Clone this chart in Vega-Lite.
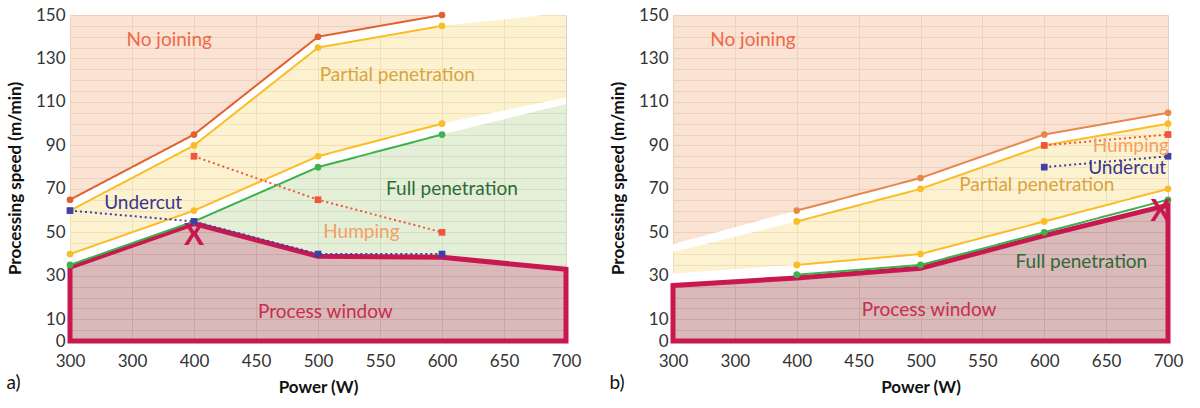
{
  "$schema": "https://vega.github.io/schema/vega-lite/v6.json",
  "background": "white",
  "padding": {"left": 6, "top": 6, "right": 18, "bottom": 4},
  "spacing": 28,
  "resolve": {"scale": {"color": "independent", "x": "independent", "y": "independent"}},
  "config": {
    "font": "Lato",
    "view": {"stroke": null},
    "axis": {
      "labelFont": "Lato", "labelFontSize": 17, "labelColor": "#333333",
      "titleFont": "Lato", "titleFontSize": 17, "titleFontWeight": "bold", "titleColor": "#111111",
      "ticks": false, "domain": false, "gridColor": "#dcd0c9", "gridWidth": 1,
      "labelFlush": false, "labelOverlap": false
    }
  },
  "datasets": {
    "bandsA": [
      {"power": 300, "b1": 65, "b2": 60, "b3": 40, "b4": 35, "pw": 34},
      {"power": 400, "b1": 95, "b2": 90, "b3": 60, "b4": 55, "pw": 54},
      {"power": 500, "b1": 140, "b2": 135, "b3": 85, "b4": 80, "pw": 39},
      {"power": 600, "b1": 150, "b2": 145, "b3": 100, "b4": 95, "pw": 38.5},
      {"power": 700, "b1": 156, "b2": 151, "b3": 112, "b4": 109, "pw": 33}
    ],
    "bandsB": [
      {"power": 300, "b1": 44.5, "b2": 41, "b3": 31, "b4": 25.5, "pw": 25.5},
      {"power": 400, "b1": 60, "b2": 55, "b3": 35, "b4": 29, "pw": 29},
      {"power": 500, "b1": 75, "b2": 70, "b3": 40, "b4": 33.5, "pw": 33.5},
      {"power": 600, "b1": 95, "b2": 90, "b3": 55, "b4": 48.5, "pw": 48.5},
      {"power": 700, "b1": 105, "b2": 100, "b3": 70, "b4": 62.5, "pw": 62.5}
    ],
    "linesA": [
      {"power": 300, "speed": 65, "series": "noJoin", "kind": "boundary"},
      {"power": 400, "speed": 95, "series": "noJoin", "kind": "boundary"},
      {"power": 500, "speed": 140, "series": "noJoin", "kind": "boundary"},
      {"power": 600, "speed": 150, "series": "noJoin", "kind": "boundary"},
      {"power": 300, "speed": 60, "series": "partialUpper", "kind": "boundary"},
      {"power": 400, "speed": 90, "series": "partialUpper", "kind": "boundary"},
      {"power": 500, "speed": 135, "series": "partialUpper", "kind": "boundary"},
      {"power": 600, "speed": 145, "series": "partialUpper", "kind": "boundary"},
      {"power": 300, "speed": 40, "series": "partialLower", "kind": "boundary"},
      {"power": 400, "speed": 60, "series": "partialLower", "kind": "boundary"},
      {"power": 500, "speed": 85, "series": "partialLower", "kind": "boundary"},
      {"power": 600, "speed": 100, "series": "partialLower", "kind": "boundary"},
      {"power": 300, "speed": 35, "series": "full", "kind": "boundary"},
      {"power": 400, "speed": 55, "series": "full", "kind": "boundary"},
      {"power": 500, "speed": 80, "series": "full", "kind": "boundary"},
      {"power": 600, "speed": 95, "series": "full", "kind": "boundary"},
      {"power": 400, "speed": 85, "series": "humping", "kind": "defect"},
      {"power": 500, "speed": 65, "series": "humping", "kind": "defect"},
      {"power": 600, "speed": 50, "series": "humping", "kind": "defect"},
      {"power": 300, "speed": 60, "series": "undercut", "kind": "defect"},
      {"power": 400, "speed": 55, "series": "undercut", "kind": "defect"},
      {"power": 500, "speed": 40, "series": "undercut", "kind": "defect"},
      {"power": 600, "speed": 40, "series": "undercut", "kind": "defect"}
    ],
    "linesB": [
      {"power": 400, "speed": 60, "series": "noJoin", "kind": "boundary"},
      {"power": 500, "speed": 75, "series": "noJoin", "kind": "boundary"},
      {"power": 600, "speed": 95, "series": "noJoin", "kind": "boundary"},
      {"power": 700, "speed": 105, "series": "noJoin", "kind": "boundary"},
      {"power": 400, "speed": 55, "series": "partialUpper", "kind": "boundary"},
      {"power": 500, "speed": 70, "series": "partialUpper", "kind": "boundary"},
      {"power": 600, "speed": 90, "series": "partialUpper", "kind": "boundary"},
      {"power": 700, "speed": 100, "series": "partialUpper", "kind": "boundary"},
      {"power": 400, "speed": 35, "series": "partialLower", "kind": "boundary"},
      {"power": 500, "speed": 40, "series": "partialLower", "kind": "boundary"},
      {"power": 600, "speed": 55, "series": "partialLower", "kind": "boundary"},
      {"power": 700, "speed": 70, "series": "partialLower", "kind": "boundary"},
      {"power": 400, "speed": 30.5, "series": "full", "kind": "boundary"},
      {"power": 500, "speed": 35, "series": "full", "kind": "boundary"},
      {"power": 600, "speed": 50, "series": "full", "kind": "boundary"},
      {"power": 700, "speed": 65, "series": "full", "kind": "boundary"},
      {"power": 600, "speed": 90, "series": "humping", "kind": "defect"},
      {"power": 700, "speed": 95, "series": "humping", "kind": "defect"},
      {"power": 600, "speed": 80, "series": "undercut", "kind": "defect"},
      {"power": 700, "speed": 85, "series": "undercut", "kind": "defect"}
    ],
    "labelsA": [
      {"power": 380, "speed": 138.5, "label": "No joining"},
      {"power": 564, "speed": 122.4, "label": "Partial penetration"},
      {"power": 608, "speed": 70, "label": "Full penetration"},
      {"power": 359, "speed": 63.5, "label": "Undercut"},
      {"power": 535, "speed": 50.2, "label": "Humping"},
      {"power": 506, "speed": 13.3, "label": "Process window"}
    ],
    "labelsB": [
      {"power": 364.6, "speed": 138.5, "label": "No joining"},
      {"power": 594, "speed": 71.8, "label": "Partial penetration"},
      {"power": 630, "speed": 36.4, "label": "Full penetration"},
      {"power": 670, "speed": 89.7, "label": "Humping"},
      {"power": 667, "speed": 79.6, "label": "Undercut"},
      {"power": 507, "speed": 14.3, "label": "Process window"}
    ],
    "crossA": [{"power": 400, "speed": 48.5, "label": "X"}],
    "crossB": [{"power": 694, "speed": 59.5, "label": "X"}]
  },
  "hconcat": [
    {
      "width": 496,
      "height": 326,
      "title": {"text": "a)", "orient": "bottom", "anchor": "start", "frame": "bounds", "offset": -21, "fontSize": 19, "fontWeight": "normal", "font": "Lato", "color": "#111111"},
      "encoding": {
        "x": {
          "field": "power", "type": "quantitative",
          "scale": {"domain": [300, 700], "nice": false, "zero": false},
          "axis": {"values": [300, 350, 400, 450, 500, 550, 600, 650, 700], "labelExpr": "datum.value == 350 ? '300' : datum.label", "title": "Power (W)", "labelPadding": 12, "titlePadding": 10, "grid": true}
        }
      },
      "layer": [
        {
          "data": {"name": "bandsA"},
          "mark": {"type": "area", "clip": true, "color": "#f8d0b7", "opacity": 0.6},
          "encoding": {
            "y": {"field": "b1", "type": "quantitative", "scale": {"domain": [0, 150], "nice": false, "zero": false},
              "axis": {"values": [0,5,10,15,20,25,30,35,40,45,50,55,60,65,70,75,80,85,90,95,100,105,110,115,120,125,130,135,140,145,150], "labelExpr": "indexof([0,10,30,50,70,90,110,130,150], datum.value) >= 0 ? datum.label : ''", "title": "Processing speed (m/min)", "labelPadding": 5, "titlePadding": 11, "grid": true}},
            "y2": {"datum": 150}
          }
        },
        {
          "data": {"name": "bandsA"},
          "mark": {"type": "area", "clip": true, "color": "#ffffff", "opacity": 1},
          "encoding": {"y": {"field": "b1", "type": "quantitative",
            "axis": {"values": [0,5,10,15,20,25,30,35,40,45,50,55,60,65,70,75,80,85,90,95,100,105,110,115,120,125,130,135,140,145,150], "labelExpr": "indexof([0,10,30,50,70,90,110,130,150], datum.value) >= 0 ? datum.label : ''", "title": "Processing speed (m/min)", "labelPadding": 5, "titlePadding": 11, "grid": true}}, "y2": {"field": "b2"}}
        },
        {
          "data": {"name": "bandsA"},
          "mark": {"type": "area", "clip": true, "color": "#fce9b1", "opacity": 0.6},
          "encoding": {"y": {"field": "b2", "type": "quantitative",
            "axis": {"values": [0,5,10,15,20,25,30,35,40,45,50,55,60,65,70,75,80,85,90,95,100,105,110,115,120,125,130,135,140,145,150], "labelExpr": "indexof([0,10,30,50,70,90,110,130,150], datum.value) >= 0 ? datum.label : ''", "title": "Processing speed (m/min)", "labelPadding": 5, "titlePadding": 11, "grid": true}}, "y2": {"field": "b3"}}
        },
        {
          "data": {"name": "bandsA"},
          "mark": {"type": "area", "clip": true, "color": "#ffffff", "opacity": 1},
          "encoding": {"y": {"field": "b3", "type": "quantitative",
            "axis": {"values": [0,5,10,15,20,25,30,35,40,45,50,55,60,65,70,75,80,85,90,95,100,105,110,115,120,125,130,135,140,145,150], "labelExpr": "indexof([0,10,30,50,70,90,110,130,150], datum.value) >= 0 ? datum.label : ''", "title": "Processing speed (m/min)", "labelPadding": 5, "titlePadding": 11, "grid": true}}, "y2": {"field": "b4"}}
        },
        {
          "data": {"name": "bandsA"},
          "mark": {"type": "area", "clip": true, "color": "#d2e4be", "opacity": 0.6},
          "encoding": {"y": {"field": "b4", "type": "quantitative",
            "axis": {"values": [0,5,10,15,20,25,30,35,40,45,50,55,60,65,70,75,80,85,90,95,100,105,110,115,120,125,130,135,140,145,150], "labelExpr": "indexof([0,10,30,50,70,90,110,130,150], datum.value) >= 0 ? datum.label : ''", "title": "Processing speed (m/min)", "labelPadding": 5, "titlePadding": 11, "grid": true}}, "y2": {"field": "pw"}}
        },
        {
          "data": {"name": "bandsA"},
          "mark": {"type": "area", "fill": "#c08a8c", "fillOpacity": 0.6, "stroke": "#c8184f", "strokeWidth": 5, "strokeJoin": "miter"},
          "encoding": {"y": {"field": "pw", "type": "quantitative",
            "axis": {"values": [0,5,10,15,20,25,30,35,40,45,50,55,60,65,70,75,80,85,90,95,100,105,110,115,120,125,130,135,140,145,150], "labelExpr": "indexof([0,10,30,50,70,90,110,130,150], datum.value) >= 0 ? datum.label : ''", "title": "Processing speed (m/min)", "labelPadding": 5, "titlePadding": 11, "grid": true}}, "y2": {"datum": 0}}
        },
        {
          "data": {"name": "linesA"},
          "mark": {"type": "line", "strokeWidth": 2},
          "encoding": {
            "y": {"field": "speed", "type": "quantitative",
              "axis": {"values": [0,5,10,15,20,25,30,35,40,45,50,55,60,65,70,75,80,85,90,95,100,105,110,115,120,125,130,135,140,145,150], "labelExpr": "indexof([0,10,30,50,70,90,110,130,150], datum.value) >= 0 ? datum.label : ''", "title": "Processing speed (m/min)", "labelPadding": 5, "titlePadding": 11, "grid": true}},
            "color": {"field": "series", "type": "nominal", "legend": null,
              "scale": {"domain": ["noJoin","partialUpper","partialLower","full","humping","undercut","No joining","Partial penetration","Full penetration","Undercut","Humping","Process window"],
                "range": ["#e0612d","#fbbd26","#fbbd26","#3cb14d","#f0563b","#3d40a6","#f06846","#d9a43e","#2e6a35","#36388d","#f2a064","#c72f4c"]}},
            "strokeDash": {"field": "kind", "type": "nominal", "legend": null, "scale": {"domain": ["boundary","defect"], "range": [[1,0],[2,3]]}},
            "detail": {"field": "series"}
          }
        },
        {
          "data": {"name": "linesA"},
          "mark": {"type": "point", "filled": true, "opacity": 1, "size": 45},
          "encoding": {
            "y": {"field": "speed", "type": "quantitative",
              "axis": {"values": [0,5,10,15,20,25,30,35,40,45,50,55,60,65,70,75,80,85,90,95,100,105,110,115,120,125,130,135,140,145,150], "labelExpr": "indexof([0,10,30,50,70,90,110,130,150], datum.value) >= 0 ? datum.label : ''", "title": "Processing speed (m/min)", "labelPadding": 5, "titlePadding": 11, "grid": true}},
            "color": {"field": "series", "type": "nominal", "legend": null,
              "scale": {"domain": ["noJoin","partialUpper","partialLower","full","humping","undercut","No joining","Partial penetration","Full penetration","Undercut","Humping","Process window"],
                "range": ["#e0612d","#fbbd26","#fbbd26","#3cb14d","#f0563b","#3d40a6","#f06846","#d9a43e","#2e6a35","#36388d","#f2a064","#c72f4c"]}},
            "shape": {"field": "kind", "type": "nominal", "legend": null, "scale": {"domain": ["boundary","defect"], "range": ["circle","square"]}}
          }
        },
        {
          "data": {"name": "labelsA"},
          "mark": {"type": "text", "fontSize": 19, "font": "Lato", "align": "center", "baseline": "middle"},
          "encoding": {
            "y": {"field": "speed", "type": "quantitative",
              "axis": {"values": [0,5,10,15,20,25,30,35,40,45,50,55,60,65,70,75,80,85,90,95,100,105,110,115,120,125,130,135,140,145,150], "labelExpr": "indexof([0,10,30,50,70,90,110,130,150], datum.value) >= 0 ? datum.label : ''", "title": "Processing speed (m/min)", "labelPadding": 5, "titlePadding": 11, "grid": true}},
            "text": {"field": "label"},
            "color": {"field": "label", "type": "nominal", "legend": null,
              "scale": {"domain": ["noJoin","partialUpper","partialLower","full","humping","undercut","No joining","Partial penetration","Full penetration","Undercut","Humping","Process window"],
                "range": ["#e0612d","#fbbd26","#fbbd26","#3cb14d","#f0563b","#3d40a6","#f06846","#d9a43e","#2e6a35","#36388d","#f2a064","#c72f4c"]}}
          }
        },
        {
          "data": {"name": "crossA"},
          "mark": {"type": "text", "fontSize": 30, "fontWeight": "bold", "font": "Lato", "color": "#c8184f", "align": "center", "baseline": "middle"},
          "encoding": {"y": {"field": "speed", "type": "quantitative",
            "axis": {"values": [0,5,10,15,20,25,30,35,40,45,50,55,60,65,70,75,80,85,90,95,100,105,110,115,120,125,130,135,140,145,150], "labelExpr": "indexof([0,10,30,50,70,90,110,130,150], datum.value) >= 0 ? datum.label : ''", "title": "Processing speed (m/min)", "labelPadding": 5, "titlePadding": 11, "grid": true}}, "text": {"field": "label"}}
        }
      ]
    },
    {
      "width": 495,
      "height": 326,
      "title": {"text": "b)", "orient": "bottom", "anchor": "start", "frame": "bounds", "offset": -21, "fontSize": 19, "fontWeight": "normal", "font": "Lato", "color": "#111111"},
      "encoding": {
        "x": {
          "field": "power", "type": "quantitative",
          "scale": {"domain": [300, 700], "nice": false, "zero": false},
          "axis": {"values": [300, 350, 400, 450, 500, 550, 600, 650, 700], "labelExpr": "datum.value == 350 ? '300' : datum.label", "title": "Power (W)", "labelPadding": 12, "titlePadding": 10, "grid": true}
        }
      },
      "layer": [
        {
          "data": {"name": "bandsB"},
          "mark": {"type": "area", "clip": true, "color": "#f8d0b7", "opacity": 0.6},
          "encoding": {
            "y": {"field": "b1", "type": "quantitative", "scale": {"domain": [0, 150], "nice": false, "zero": false},
              "axis": {"values": [0,5,10,15,20,25,30,35,40,45,50,55,60,65,70,75,80,85,90,95,100,105,110,115,120,125,130,135,140,145,150], "labelExpr": "indexof([0,10,30,50,70,90,110,130,150], datum.value) >= 0 ? datum.label : ''", "title": "Processing speed (m/min)", "labelPadding": 5, "titlePadding": 11, "grid": true}},
            "y2": {"datum": 150}
          }
        },
        {
          "data": {"name": "bandsB"},
          "mark": {"type": "area", "clip": true, "color": "#ffffff", "opacity": 1},
          "encoding": {"y": {"field": "b1", "type": "quantitative",
            "axis": {"values": [0,5,10,15,20,25,30,35,40,45,50,55,60,65,70,75,80,85,90,95,100,105,110,115,120,125,130,135,140,145,150], "labelExpr": "indexof([0,10,30,50,70,90,110,130,150], datum.value) >= 0 ? datum.label : ''", "title": "Processing speed (m/min)", "labelPadding": 5, "titlePadding": 11, "grid": true}}, "y2": {"field": "b2"}}
        },
        {
          "data": {"name": "bandsB"},
          "mark": {"type": "area", "clip": true, "color": "#fce9b1", "opacity": 0.6},
          "encoding": {"y": {"field": "b2", "type": "quantitative",
            "axis": {"values": [0,5,10,15,20,25,30,35,40,45,50,55,60,65,70,75,80,85,90,95,100,105,110,115,120,125,130,135,140,145,150], "labelExpr": "indexof([0,10,30,50,70,90,110,130,150], datum.value) >= 0 ? datum.label : ''", "title": "Processing speed (m/min)", "labelPadding": 5, "titlePadding": 11, "grid": true}}, "y2": {"field": "b3"}}
        },
        {
          "data": {"name": "bandsB"},
          "mark": {"type": "area", "clip": true, "color": "#ffffff", "opacity": 1},
          "encoding": {"y": {"field": "b3", "type": "quantitative",
            "axis": {"values": [0,5,10,15,20,25,30,35,40,45,50,55,60,65,70,75,80,85,90,95,100,105,110,115,120,125,130,135,140,145,150], "labelExpr": "indexof([0,10,30,50,70,90,110,130,150], datum.value) >= 0 ? datum.label : ''", "title": "Processing speed (m/min)", "labelPadding": 5, "titlePadding": 11, "grid": true}}, "y2": {"field": "b4"}}
        },
        {
          "data": {"name": "bandsB"},
          "mark": {"type": "area", "fill": "#c08a8c", "fillOpacity": 0.6, "stroke": "#c8184f", "strokeWidth": 5, "strokeJoin": "miter"},
          "encoding": {"y": {"field": "pw", "type": "quantitative",
            "axis": {"values": [0,5,10,15,20,25,30,35,40,45,50,55,60,65,70,75,80,85,90,95,100,105,110,115,120,125,130,135,140,145,150], "labelExpr": "indexof([0,10,30,50,70,90,110,130,150], datum.value) >= 0 ? datum.label : ''", "title": "Processing speed (m/min)", "labelPadding": 5, "titlePadding": 11, "grid": true}}, "y2": {"datum": 0}}
        },
        {
          "data": {"name": "linesB"},
          "mark": {"type": "line", "strokeWidth": 2},
          "encoding": {
            "y": {"field": "speed", "type": "quantitative",
              "axis": {"values": [0,5,10,15,20,25,30,35,40,45,50,55,60,65,70,75,80,85,90,95,100,105,110,115,120,125,130,135,140,145,150], "labelExpr": "indexof([0,10,30,50,70,90,110,130,150], datum.value) >= 0 ? datum.label : ''", "title": "Processing speed (m/min)", "labelPadding": 5, "titlePadding": 11, "grid": true}},
            "color": {"field": "series", "type": "nominal", "legend": null,
              "scale": {"domain": ["noJoin","partialUpper","partialLower","full","humping","undercut","No joining","Partial penetration","Full penetration","Undercut","Humping","Process window"],
                "range": ["#e8874b","#fbbd26","#fbbd26","#3cb14d","#f0563b","#3d40a6","#f06846","#d9a43e","#2e6a35","#36388d","#f2a064","#c72f4c"]}},
            "strokeDash": {"field": "kind", "type": "nominal", "legend": null, "scale": {"domain": ["boundary","defect"], "range": [[1,0],[2,3]]}},
            "detail": {"field": "series"}
          }
        },
        {
          "data": {"name": "linesB"},
          "mark": {"type": "point", "filled": true, "opacity": 1, "size": 45},
          "encoding": {
            "y": {"field": "speed", "type": "quantitative",
              "axis": {"values": [0,5,10,15,20,25,30,35,40,45,50,55,60,65,70,75,80,85,90,95,100,105,110,115,120,125,130,135,140,145,150], "labelExpr": "indexof([0,10,30,50,70,90,110,130,150], datum.value) >= 0 ? datum.label : ''", "title": "Processing speed (m/min)", "labelPadding": 5, "titlePadding": 11, "grid": true}},
            "color": {"field": "series", "type": "nominal", "legend": null,
              "scale": {"domain": ["noJoin","partialUpper","partialLower","full","humping","undercut","No joining","Partial penetration","Full penetration","Undercut","Humping","Process window"],
                "range": ["#e8874b","#fbbd26","#fbbd26","#3cb14d","#f0563b","#3d40a6","#f06846","#d9a43e","#2e6a35","#36388d","#f2a064","#c72f4c"]}},
            "shape": {"field": "kind", "type": "nominal", "legend": null, "scale": {"domain": ["boundary","defect"], "range": ["circle","square"]}}
          }
        },
        {
          "data": {"name": "labelsB"},
          "mark": {"type": "text", "fontSize": 19, "font": "Lato", "align": "center", "baseline": "middle"},
          "encoding": {
            "y": {"field": "speed", "type": "quantitative",
              "axis": {"values": [0,5,10,15,20,25,30,35,40,45,50,55,60,65,70,75,80,85,90,95,100,105,110,115,120,125,130,135,140,145,150], "labelExpr": "indexof([0,10,30,50,70,90,110,130,150], datum.value) >= 0 ? datum.label : ''", "title": "Processing speed (m/min)", "labelPadding": 5, "titlePadding": 11, "grid": true}},
            "text": {"field": "label"},
            "color": {"field": "label", "type": "nominal", "legend": null,
              "scale": {"domain": ["noJoin","partialUpper","partialLower","full","humping","undercut","No joining","Partial penetration","Full penetration","Undercut","Humping","Process window"],
                "range": ["#e8874b","#fbbd26","#fbbd26","#3cb14d","#f0563b","#3d40a6","#f06846","#d9a43e","#2e6a35","#36388d","#f2a064","#c72f4c"]}}
          }
        },
        {
          "data": {"name": "crossB"},
          "mark": {"type": "text", "fontSize": 30, "fontWeight": "bold", "font": "Lato", "color": "#c8184f", "align": "center", "baseline": "middle"},
          "encoding": {"y": {"field": "speed", "type": "quantitative",
            "axis": {"values": [0,5,10,15,20,25,30,35,40,45,50,55,60,65,70,75,80,85,90,95,100,105,110,115,120,125,130,135,140,145,150], "labelExpr": "indexof([0,10,30,50,70,90,110,130,150], datum.value) >= 0 ? datum.label : ''", "title": "Processing speed (m/min)", "labelPadding": 5, "titlePadding": 11, "grid": true}}, "text": {"field": "label"}}
        }
      ]
    }
  ]
}
